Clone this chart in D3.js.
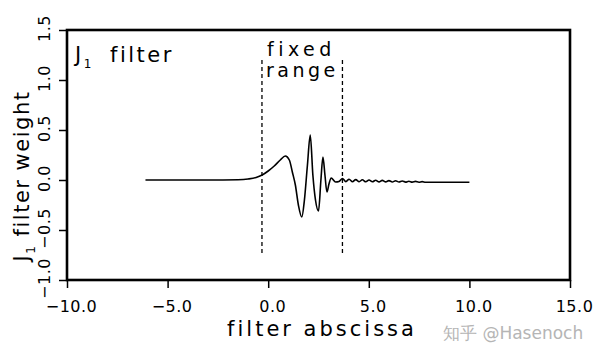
<!DOCTYPE html>
<html>
<head>
<meta charset="utf-8">
<script src="https://cdn.jsdelivr.net/npm/d3@7"></script>
<style>
  body { margin: 0; background: #fff; }
  text { font-family: "DejaVu Sans", sans-serif; fill: #000; }
</style>
</head>
<body>
<div id="wrapper"></div>
<script>
// filter weights
const filterX = [-6.1, -3.0, -1.5, -1.0, -0.6, -0.3, 0.0, 0.3, 0.6, 0.85, 1.05, 1.2, 1.35, 1.5, 1.67,
    1.8, 1.95, 2.09, 2.22, 2.35, 2.5, 2.62, 2.72, 2.82, 2.92, 3.02, 3.13, 3.35, 3.52, 3.69,
    3.86, 4.02, 4.19, 4.35, 4.52, 4.68, 4.85, 5.01, 5.18, 5.34, 5.51, 5.67, 5.84, 6.0,
    6.17, 6.33, 6.5, 6.66, 6.83, 6.99, 7.16, 7.32, 7.49, 7.65, 7.82, 8.2, 10.0]
const filterY = [0.0, 0.0, 0.003, 0.01, 0.025, 0.05, 0.09, 0.14, 0.2, 0.24, 0.2, 0.08, -0.05, -0.25, -0.37,
    -0.2, 0.15, 0.45, 0.05, -0.2, -0.31, 0.0, 0.23, 0.05, -0.12, -0.04, 0.02, -0.02, -0.015, 0.015,
    -0.016, 0.008, -0.017, 0.004, -0.017, 0.002, -0.018, 0.0, -0.018, -0.002, -0.019, -0.004, -0.019, -0.006,
    -0.02, -0.008, -0.02, -0.01, -0.021, -0.012, -0.021, -0.014, -0.022, -0.016, -0.022, -0.022, -0.023]

// "fixed range" bounds and how far the dashed lines reach
const rangeX = [-0.31, 3.69]
const rangeY = [-0.76, 1.2]

const xTicks = [-10, -5, 0, 5, 10, 15]
const yTicks = [-1.0, -0.5, 0.0, 0.5, 1.0, 1.5]

const dataset = filterX.map((x, i) => ({x: x, y: filterY[i]}))

let dimensions = {
    width: 600,
    height: 356,
    margin: {top: 30, right: 30, bottom: 76, left: 67},
}
dimensions.boundedWidth = dimensions.width - dimensions.margin.left - dimensions.margin.right
dimensions.boundedHeight = dimensions.height - dimensions.margin.top - dimensions.margin.bottom

const wrapper = d3.select("#wrapper")
    .append("svg")
    .attr("width", dimensions.width)
    .attr("height", dimensions.height)

const bounds = wrapper.append("g")
    .attr("transform", `translate(${dimensions.margin.left},${dimensions.margin.top})`)

const xScaler = d3.scaleLinear()
    .domain([-10, 15])
    .range([0, dimensions.boundedWidth])
const yScaler = d3.scaleLinear()
    .domain([-1, 1.5])
    .range([dimensions.boundedHeight, 0])

// dashed range markers
bounds.selectAll(".range")
    .data(rangeX)
    .enter()
    .append("line")
    .attr("x1", d => xScaler(d))
    .attr("x2", d => xScaler(d))
    .attr("y1", yScaler(rangeY[1]))
    .attr("y2", yScaler(rangeY[0]))
    .attr("stroke", "black")
    .attr("stroke-width", 1.3)
    .attr("stroke-dasharray", "4 3")

const lineGen = d3.line()
    .x(d => xScaler(d.x))
    .y(d => yScaler(d.y))
    .curve(d3.curveMonotoneX)

bounds.append("path")
    .datum(dataset)
    .attr("d", lineGen)
    .attr("fill", "none")
    .attr("stroke", "black")
    .attr("stroke-width", 1.6)

// axes
const xAxis = bounds.append("g")
    .attr("transform", `translate(0,${dimensions.boundedHeight})`)
    .call(d3.axisBottom(xScaler).tickValues(xTicks).tickFormat(d3.format(".1f")).tickSize(8).tickSizeOuter(0))
xAxis.select(".domain").remove()
xAxis.selectAll("line").attr("stroke-width", 1.5)
xAxis.selectAll("text")
    .attr("font-size", "16px")
    .attr("font-family", "DejaVu Sans")
    .attr("letter-spacing", "0.5px")
    .attr("dx", 4)
    .attr("y", 21)

const yAxis = bounds.append("g")
    .call(d3.axisLeft(yScaler).tickValues(yTicks).tickFormat(d3.format(".1f")).tickSize(8).tickSizeOuter(0))
yAxis.select(".domain").remove()
yAxis.selectAll("line").attr("stroke-width", 1.5)
yAxis.selectAll("text")
    .attr("x", null)
    .attr("dy", null)
    .attr("text-anchor", "middle")
    .attr("font-size", "16px")
    .attr("font-family", "DejaVu Sans")
    .attr("letter-spacing", "0.5px")
    .attr("transform", "translate(-17,-2) rotate(-90)")

// frame
bounds.append("rect")
    .attr("width", dimensions.boundedWidth)
    .attr("height", dimensions.boundedHeight)
    .attr("fill", "none")
    .attr("stroke", "black")
    .attr("stroke-width", 2.6)

// labels
const title = bounds.append("text")
    .attr("x", 8)
    .attr("y", 32)
    .attr("font-size", "21px")
    .attr("letter-spacing", "2.5px")
title.append("tspan").text("J")
title.append("tspan").attr("font-size", "12px").attr("dy", 6).text("1")
title.append("tspan").attr("x", 43).attr("dy", -6).text("filter")

bounds.append("text")
    .attr("x", xScaler(rangeX[0]) + 5)
    .attr("y", 26)
    .attr("font-size", "19px")
    .attr("letter-spacing", "4.5px")
    .text("fixed")
bounds.append("text")
    .attr("x", xScaler(rangeX[0]) + 4)
    .attr("y", 47)
    .attr("font-size", "19px")
    .attr("letter-spacing", "3.5px")
    .text("range")

wrapper.append("text")
    .attr("x", 322)
    .attr("y", 336)
    .attr("text-anchor", "middle")
    .attr("font-size", "21px")
    .attr("letter-spacing", "3px")
    .text("filter abscissa")

const yLabel = wrapper.append("text")
    .attr("transform", "translate(29,176) rotate(-90)")
    .attr("text-anchor", "middle")
    .attr("font-size", "21px")
    .attr("letter-spacing", "1.5px")
yLabel.append("tspan").text("J")
yLabel.append("tspan").attr("font-size", "12px").attr("dy", 6).text("1")
yLabel.append("tspan").attr("dy", -6).text(" filter weight")

wrapper.append("text")
    .attr("x", 443)
    .attr("y", 339)
    .attr("font-size", "17px")
    .attr("font-family", "'Noto Sans CJK SC', 'DejaVu Sans', sans-serif")
    .style("fill", "#b5b5b5")
    .text("知乎 @Hasenoch")
</script>
</body>
</html>
